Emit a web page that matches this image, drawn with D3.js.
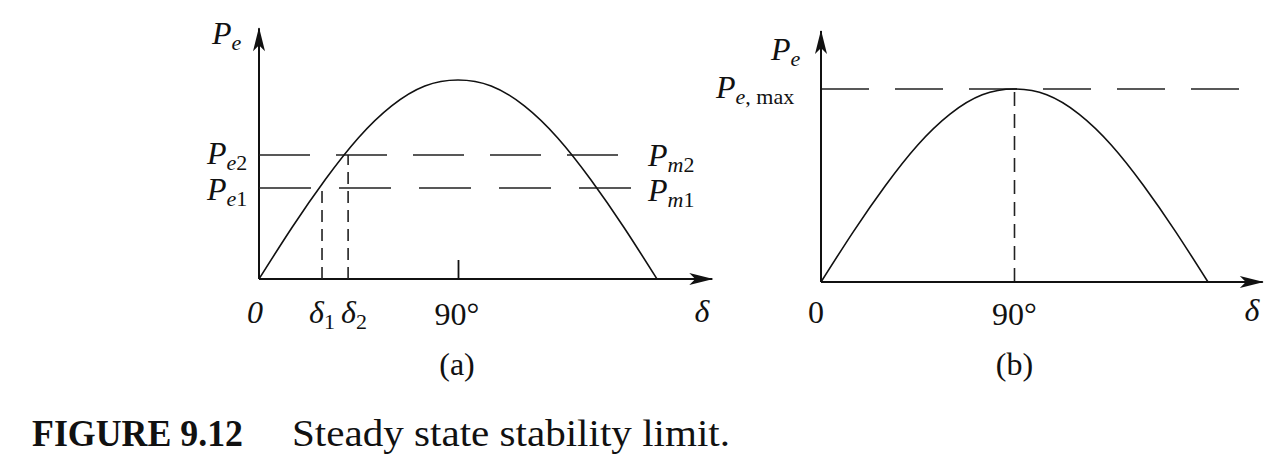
<!DOCTYPE html>
<html>
<head>
<meta charset="utf-8">
<script src="https://cdn.jsdelivr.net/npm/d3@7"></script>
<style>
  body { margin: 0; background: #fff; }
  svg text { font-family: "Liberation Serif", "Times New Roman", serif; fill: #111; }
</style>
</head>
<body>
<svg id="fig" width="1283" height="469"></svg>
<script>
// power angle curve (degrees, per unit of Pe max)
var deltaDeg = [0, 15, 30, 45, 60, 75, 90, 105, 120, 135, 150, 165, 180]
var peCurve = [0, 0.26, 0.5, 0.71, 0.87, 0.97, 1, 0.97, 0.87, 0.71, 0.5, 0.26, 0]

// panel (a) operating points
var pmLevels = [0.457, 0.623]      // Pm1, Pm2
var deltaOps = [28.5, 40.3]        // delta1, delta2
var pmLineEnd = [169, 162.4]       // where each dashed Pm line stops (deg)

// panel (b)
var peMax = 1
var peMaxLineEnd = 196

var svg = d3.select('#fig')

var panels = {
    a: { x0: 259, x1: 657, y0: 279, y1: 80, xTop: 205, yTop: 1.26 },
    b: { x0: 821, x1: 1208, y0: 282, y1: 89, xTop: 205.5, yTop: 1.3 }
}

var bigFont = "32px"
var subFont = "22px"

var defs = svg.append("defs")
defs.append("marker")
    .attr("id", "arrow")
    .attr("markerUnits", "userSpaceOnUse")
    .attr("viewBox", "-24 -7 26 14")
    .attr("markerWidth", 26)
    .attr("markerHeight", 14)
    .attr("refX", 0)
    .attr("refY", 0)
    .attr("orient", "auto")
    .append("path")
    .attr("d", "M1,0 L-23,-6 L-17,0 L-23,6 Z")
    .attr("fill", "#111")

function makeScales(p) {
    return {
        x: d3.scaleLinear().domain([0, 180]).range([p.x0, p.x1]),
        y: d3.scaleLinear().domain([0, 1]).range([p.y0, p.y1])
    }
}

function drawAxes(s, p) {
    svg.append("line")
       .attr("x1", s.x(0)).attr("y1", s.y(0))
       .attr("x2", s.x(p.xTop)).attr("y2", s.y(0))
       .attr("stroke", "#111").attr("stroke-width", 2)
       .attr("marker-end", "url(#arrow)")
    svg.append("line")
       .attr("x1", s.x(0)).attr("y1", s.y(0))
       .attr("x2", s.x(0)).attr("y2", s.y(p.yTop))
       .attr("stroke", "#111").attr("stroke-width", 2)
       .attr("marker-end", "url(#arrow)")
}

function drawCurve(s) {
    var line = d3.line()
                 .x((d, i) => s.x(deltaDeg[i]))
                 .y(d => s.y(d))
                 .curve(d3.curveNatural)
    svg.append("path")
       .datum(peCurve)
       .attr("d", line)
       .attr("fill", "none")
       .attr("stroke", "#111")
       .attr("stroke-width", 1.6)
}

// label with italic P and a subscript
function pLabel(x, y, sub) {
    var t = svg.append("text")
               .attr("x", x).attr("y", y)
               .attr("font-size", bigFont)
    t.append("tspan").attr("font-style", "italic").text("P")
    sub.forEach(function(part) {
        t.append("tspan")
         .attr("font-size", subFont)
         .attr("font-style", part.italic ? "italic" : "normal")
         .attr("dy", part.dy || null)
         .text(part.text)
    })
    return t
}

function plainText(x, y, str, italic) {
    return svg.append("text")
              .attr("x", x).attr("y", y)
              .attr("text-anchor", "middle")
              .attr("font-size", bigFont)
              .attr("font-style", italic ? "italic" : "normal")
              .text(str)
}

// ---------- panel (a) ----------
var sa = makeScales(panels.a)

// tick at 90 degrees, pointing up
var tickAxis = d3.axisBottom(sa.x).tickValues([90]).tickSizeInner(-19).tickSizeOuter(0).tickFormat("")
var tickG = svg.append("g")
               .attr("transform", `translate(0,${sa.y(0)})`)
               .call(tickAxis)
tickG.select(".domain").remove()
tickG.selectAll("line").attr("stroke", "#111").attr("stroke-width", 1.8)

drawAxes(sa, panels.a)

var pmDash = ["52,28", "51,26"]
pmLevels.forEach(function(v, i) {
    svg.append("line")
       .attr("x1", sa.x(0)).attr("y1", sa.y(v))
       .attr("x2", sa.x(pmLineEnd[i])).attr("y2", sa.y(v))
       .attr("stroke", "#222").attr("stroke-width", 1.6)
       .attr("stroke-dasharray", pmDash[i])
    svg.append("line")
       .attr("x1", sa.x(deltaOps[i])).attr("y1", sa.y(0))
       .attr("x2", sa.x(deltaOps[i])).attr("y2", sa.y(v))
       .attr("stroke", "#222").attr("stroke-width", 1.6)
       .attr("stroke-dasharray", "12,7")
})

drawCurve(sa)

pLabel(212, 44, [{ text: "e", italic: true, dy: 6 }])
pLabel(207, 164, [{ text: "e", italic: true, dy: 6 }, { text: "2" }])
pLabel(207, 200, [{ text: "e", italic: true, dy: 6 }, { text: "1" }])
pLabel(648, 166, [{ text: "m", italic: true, dy: 6 }, { text: "2" }])
pLabel(648, 201, [{ text: "m", italic: true, dy: 6 }, { text: "1" }])

plainText(255, 323, "0", true)

var d1 = svg.append("text").attr("x", 309).attr("y", 323).attr("font-size", bigFont)
d1.append("tspan").attr("font-style", "italic").text("δ")
d1.append("tspan").attr("font-size", subFont).attr("dy", 6).text("1")
var d2 = svg.append("text").attr("x", 341).attr("y", 323).attr("font-size", bigFont)
d2.append("tspan").attr("font-style", "italic").text("δ")
d2.append("tspan").attr("font-size", subFont).attr("dy", 6).text("2")

plainText(sa.x(90) - 1, 325, "90°")
plainText(702, 322, "δ", true)
plainText(sa.x(90) - 1, 375, "(a)")

// ---------- panel (b) ----------
var sb = makeScales(panels.b)

svg.append("line")
   .attr("x1", sb.x(90)).attr("y1", sb.y(0))
   .attr("x2", sb.x(90)).attr("y2", sb.y(peMax))
   .attr("stroke", "#222").attr("stroke-width", 1.6)
   .attr("stroke-dasharray", "14,8")

svg.append("line")
   .attr("x1", sb.x(0)).attr("y1", sb.y(peMax))
   .attr("x2", sb.x(peMaxLineEnd)).attr("y2", sb.y(peMax))
   .attr("stroke", "#222").attr("stroke-width", 1.6)
   .attr("stroke-dasharray", "48,26")

drawAxes(sb, panels.b)
drawCurve(sb)

pLabel(771, 60, [{ text: "e", italic: true, dy: 6 }])
pLabel(716, 98, [{ text: "e", italic: true, dy: 6 }, { text: ", max", italic: false }])

plainText(816, 323, "0")
plainText(sb.x(90), 325, "90°")
plainText(1252, 321, "δ", true)
plainText(sb.x(90), 375, "(b)")

// ---------- caption ----------
svg.append("text").attr("x", 32).attr("y", 446)
   .attr("font-size", "38px").attr("font-weight", "bold")
   .attr("textLength", 211).attr("lengthAdjust", "spacingAndGlyphs")
   .text("FIGURE 9.12")
svg.append("text").attr("x", 292).attr("y", 446)
   .attr("font-size", "38px")
   .attr("textLength", 438).attr("lengthAdjust", "spacingAndGlyphs")
   .text("Steady state stability limit.")
</script>
</body>
</html>
